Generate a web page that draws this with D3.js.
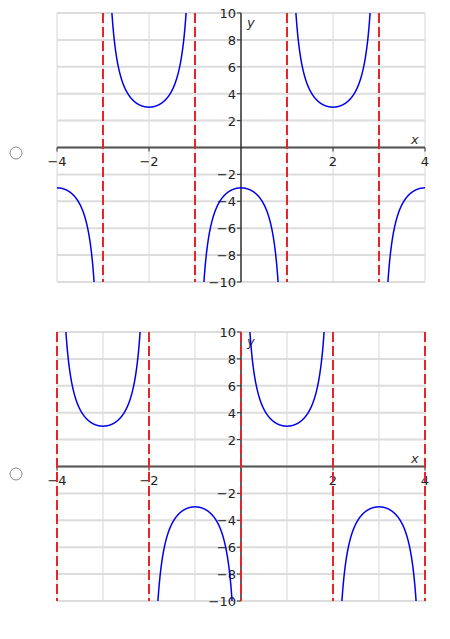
<!DOCTYPE html>
<html><head><meta charset="utf-8">
<script src="https://cdn.jsdelivr.net/npm/d3@7"></script>
<style>body{margin:0;background:#fff}</style>
</head><body><svg id="c" width="450" height="639"></svg>
<script>
// graph definitions: y = amp * trig(pi x / 2)
const xTicks = [-4, -2, 2, 4];
const yTicks = [-10, -8, -6, -4, -2, 2, 4, 6, 8, 10];
const graph1Asymptotes = [-3, -1, 1, 3];
const graph2Asymptotes = [-4, -2, 0, 2, 4];
const graph1Amp = -3, graph2Amp = 3;

const svg = d3.select("#c");
const font = "DejaVu Sans, Verdana, sans-serif";

function drawGraph(top, bottom, radioY, asym, fn) {
  const x = d3.scaleLinear().domain([-4, 4]).range([57, 425]);
  const y = d3.scaleLinear().domain([-10, 10]).range([bottom, top]);
  const g = svg.append("g");
  g.append("circle").attr("cx", 16).attr("cy", radioY).attr("r", 6)
    .attr("fill", "#fff").attr("stroke", "#888").attr("stroke-width", 1);
  d3.range(-4, 4.01, 1).forEach(v => g.append("line").attr("x1", x(v)).attr("x2", x(v))
    .attr("y1", top).attr("y2", bottom).attr("stroke", "#d6d6d6").attr("stroke-width", 1));
  d3.range(-10, 10.01, 2).forEach(v => g.append("line").attr("x1", x(-4)).attr("x2", x(4))
    .attr("y1", y(v)).attr("y2", y(v)).attr("stroke", "#dcdcdc").attr("stroke-width", 2));
  g.append("line").attr("x1", x(-4)).attr("x2", x(4)).attr("y1", y(0)).attr("y2", y(0))
    .attr("stroke", "#555").attr("stroke-width", 2);
  g.append("line").attr("x1", x(0)).attr("x2", x(0)).attr("y1", top).attr("y2", bottom)
    .attr("stroke", "#333").attr("stroke-width", 1.5);
  xTicks.forEach(v => {
    g.append("line").attr("x1", x(v)).attr("x2", x(v)).attr("y1", y(0)).attr("y2", y(0) + 4).attr("stroke", "#333");
    g.append("text").attr("x", x(v)).attr("y", y(0) + 18).attr("text-anchor", "middle")
      .attr("font-family", font).attr("font-size", 13).attr("fill", "#222")
      .text(v < 0 ? "\u2212" + (-v) : v);
  });
  yTicks.forEach(v => {
    g.append("line").attr("x1", x(0) - 4).attr("x2", x(0)).attr("y1", y(v)).attr("y2", y(v)).attr("stroke", "#333");
    g.append("text").attr("x", x(0) - 5).attr("y", y(v) + 5).attr("text-anchor", "end")
      .attr("font-family", font).attr("font-size", 13).attr("fill", "#222")
      .text(v < 0 ? "\u2212" + (-v) : v);
  });
  g.append("text").attr("x", x(0) + 6).attr("y", top + 14).attr("font-family", font)
    .attr("font-style", "italic").attr("font-size", 13).attr("fill", "#333").text("y");
  g.append("text").attr("x", x(4) - 14).attr("y", y(0) - 4).attr("font-family", font)
    .attr("font-style", "italic").attr("font-size", 13).attr("fill", "#333").text("x");
  asym.forEach(a => g.append("line").attr("x1", x(a)).attr("x2", x(a)).attr("y1", top).attr("y2", bottom)
    .attr("stroke", "#e8232a").attr("stroke-width", 2).attr("stroke-dasharray", "10,4"));
  const edges = [-4, ...asym.filter(a => a > -4 && a < 4), 4];
  const line = d3.line().x(d => x(d[0])).y(d => y(d[1]));
  const clip = "clip" + top;
  g.append("clipPath").attr("id", clip).append("rect")
    .attr("x", x(-4)).attr("y", top).attr("width", x(4) - x(-4)).attr("height", bottom - top);
  for (let i = 0; i < edges.length - 1; i++) {
    const a = edges[i], b = edges[i + 1];
    const pts = d3.range(0, 1.0001, 0.002).map(t => a + (b - a) * t)
      .map(v => [v, fn(v)]).filter(p => isFinite(p[1]) && Math.abs(p[1]) < 40);
    g.append("path").attr("d", line(pts)).attr("fill", "none").attr("stroke", "#0000ee")
      .attr("stroke-width", 1.5).attr("clip-path", `url(#${clip})`);
  }
}

drawGraph(13, 282, 153, graph1Asymptotes, v => graph1Amp / Math.cos(Math.PI * v / 2));
drawGraph(332, 601, 474, graph2Asymptotes, v => graph2Amp / Math.sin(Math.PI * v / 2));
</script></body></html>
